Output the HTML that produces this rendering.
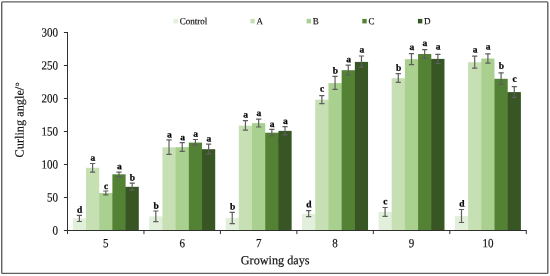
<!DOCTYPE html>
<html><head><meta charset="utf-8"><title>Curling angle chart</title>
<style>html,body{margin:0;padding:0;background:#fff}svg{display:block}text{font-family:"Liberation Serif","Times New Roman",serif;fill:#111;stroke:#111;stroke-width:0.18px}.lb text{fill:#000;stroke:#000;stroke-width:0.25px;font-weight:bold}</style></head>
<body>
<svg width="550" height="276" viewBox="0 0 550 276">
<rect x="0" y="0" width="550" height="276" fill="#fff"/>
<rect x="1.7" y="1.9" width="546.1" height="271.5" rx="0.8" ry="0.8" fill="none" stroke="#5f5f5f" stroke-width="1.4"/>
<rect x="85.40" y="218.80" width="1.2" height="11.70" fill="#E2EFDA"/>
<rect x="98.60" y="193.50" width="1.2" height="37.00" fill="#C6E0B4"/>
<rect x="111.80" y="193.50" width="1.2" height="37.00" fill="#A9D08E"/>
<rect x="125.00" y="187.30" width="1.2" height="43.20" fill="#548235"/>
<rect x="161.82" y="216.90" width="1.2" height="13.60" fill="#E2EFDA"/>
<rect x="175.02" y="147.80" width="1.2" height="82.70" fill="#C6E0B4"/>
<rect x="188.22" y="147.70" width="1.2" height="82.80" fill="#A9D08E"/>
<rect x="201.42" y="149.70" width="1.2" height="80.80" fill="#548235"/>
<rect x="238.24" y="218.40" width="1.2" height="12.10" fill="#E2EFDA"/>
<rect x="251.44" y="126.10" width="1.2" height="104.40" fill="#C6E0B4"/>
<rect x="264.64" y="133.20" width="1.2" height="97.30" fill="#A9D08E"/>
<rect x="277.84" y="133.20" width="1.2" height="97.30" fill="#548235"/>
<rect x="314.66" y="214.30" width="1.2" height="16.20" fill="#E2EFDA"/>
<rect x="327.86" y="100.20" width="1.2" height="130.30" fill="#C6E0B4"/>
<rect x="341.06" y="83.60" width="1.2" height="146.90" fill="#A9D08E"/>
<rect x="354.26" y="70.70" width="1.2" height="159.80" fill="#548235"/>
<rect x="391.08" y="212.40" width="1.2" height="18.10" fill="#E2EFDA"/>
<rect x="404.28" y="78.70" width="1.2" height="151.80" fill="#C6E0B4"/>
<rect x="417.48" y="59.70" width="1.2" height="170.80" fill="#A9D08E"/>
<rect x="430.68" y="59.40" width="1.2" height="171.10" fill="#548235"/>
<rect x="467.50" y="216.60" width="1.2" height="13.90" fill="#E2EFDA"/>
<rect x="480.70" y="62.70" width="1.2" height="167.80" fill="#C6E0B4"/>
<rect x="493.90" y="79.30" width="1.2" height="151.20" fill="#A9D08E"/>
<rect x="507.10" y="92.60" width="1.2" height="137.90" fill="#548235"/>
<rect x="72.80" y="218.30" width="13.20" height="12.20" fill="#E2EFDA"/>
<rect x="86.00" y="167.80" width="13.20" height="62.70" fill="#C6E0B4"/>
<rect x="99.20" y="193.00" width="13.20" height="37.50" fill="#A9D08E"/>
<rect x="112.40" y="174.30" width="13.20" height="56.20" fill="#548235"/>
<rect x="125.60" y="186.80" width="13.20" height="43.70" fill="#375623"/>
<rect x="149.22" y="216.40" width="13.20" height="14.10" fill="#E2EFDA"/>
<rect x="162.42" y="147.30" width="13.20" height="83.20" fill="#C6E0B4"/>
<rect x="175.62" y="147.20" width="13.20" height="83.30" fill="#A9D08E"/>
<rect x="188.82" y="142.60" width="13.20" height="87.90" fill="#548235"/>
<rect x="202.02" y="149.20" width="13.20" height="81.30" fill="#375623"/>
<rect x="225.64" y="217.90" width="13.20" height="12.60" fill="#E2EFDA"/>
<rect x="238.84" y="125.60" width="13.20" height="104.90" fill="#C6E0B4"/>
<rect x="252.04" y="123.10" width="13.20" height="107.40" fill="#A9D08E"/>
<rect x="265.24" y="132.70" width="13.20" height="97.80" fill="#548235"/>
<rect x="278.44" y="130.90" width="13.20" height="99.60" fill="#375623"/>
<rect x="302.06" y="213.80" width="13.20" height="16.70" fill="#E2EFDA"/>
<rect x="315.26" y="99.70" width="13.20" height="130.80" fill="#C6E0B4"/>
<rect x="328.46" y="83.10" width="13.20" height="147.40" fill="#A9D08E"/>
<rect x="341.66" y="70.20" width="13.20" height="160.30" fill="#548235"/>
<rect x="354.86" y="61.90" width="13.20" height="168.60" fill="#375623"/>
<rect x="378.48" y="211.90" width="13.20" height="18.60" fill="#E2EFDA"/>
<rect x="391.68" y="78.20" width="13.20" height="152.30" fill="#C6E0B4"/>
<rect x="404.88" y="59.20" width="13.20" height="171.30" fill="#A9D08E"/>
<rect x="418.08" y="54.00" width="13.20" height="176.50" fill="#548235"/>
<rect x="431.28" y="58.90" width="13.20" height="171.60" fill="#375623"/>
<rect x="454.90" y="216.10" width="13.20" height="14.40" fill="#E2EFDA"/>
<rect x="468.10" y="62.20" width="13.20" height="168.30" fill="#C6E0B4"/>
<rect x="481.30" y="58.50" width="13.20" height="172.00" fill="#A9D08E"/>
<rect x="494.50" y="78.80" width="13.20" height="151.70" fill="#548235"/>
<rect x="507.70" y="92.10" width="13.20" height="138.40" fill="#375623"/>
<g stroke="#303030" stroke-width="1" fill="none">
<line x1="67.5" y1="32.0" x2="67.5" y2="234.1"/>
<line x1="63.9" y1="230.5" x2="526.76" y2="230.5"/>
<line x1="63.9" y1="32.50" x2="67.5" y2="32.50"/>
<line x1="63.9" y1="65.50" x2="67.5" y2="65.50"/>
<line x1="63.9" y1="98.50" x2="67.5" y2="98.50"/>
<line x1="63.9" y1="131.50" x2="67.5" y2="131.50"/>
<line x1="63.9" y1="164.50" x2="67.5" y2="164.50"/>
<line x1="63.9" y1="197.50" x2="67.5" y2="197.50"/>
<line x1="143.96" y1="230.5" x2="143.96" y2="234.1"/>
<line x1="220.42" y1="230.5" x2="220.42" y2="234.1"/>
<line x1="296.88" y1="230.5" x2="296.88" y2="234.1"/>
<line x1="373.34" y1="230.5" x2="373.34" y2="234.1"/>
<line x1="449.80" y1="230.5" x2="449.80" y2="234.1"/>
<line x1="526.26" y1="230.5" x2="526.26" y2="234.1"/>
</g>
<g stroke="#5e5e5e" stroke-width="1.2" fill="none">
<path d="M76.80 215.40H82.00M79.40 215.40V221.50M76.80 221.50H82.00"/>
<path d="M90.00 163.50H95.20M92.60 163.50V172.10M90.00 172.10H95.20"/>
<path d="M103.20 191.00H108.40M105.80 191.00V194.80M103.20 194.80H108.40"/>
<path d="M116.40 172.10H121.60M119.00 172.10V176.70M116.40 176.70H121.60"/>
<path d="M129.60 183.20H134.80M132.20 183.20V190.10M129.60 190.10H134.80"/>
<path d="M153.22 211.00H158.42M155.82 211.00V221.70M153.22 221.70H158.42"/>
<path d="M166.42 139.90H171.62M169.02 139.90V154.40M166.42 154.40H171.62"/>
<path d="M179.62 142.60H184.82M182.22 142.60V151.30M179.62 151.30H184.82"/>
<path d="M192.82 139.50H198.02M195.42 139.50V145.20M192.82 145.20H198.02"/>
<path d="M206.02 144.10H211.22M208.62 144.10V153.90M206.02 153.90H211.22"/>
<path d="M229.64 212.30H234.84M232.24 212.30V223.60M229.64 223.60H234.84"/>
<path d="M242.84 120.60H248.04M245.44 120.60V130.20M242.84 130.20H248.04"/>
<path d="M256.04 119.10H261.24M258.64 119.10V127.00M256.04 127.00H261.24"/>
<path d="M269.24 129.30H274.44M271.84 129.30V135.90M269.24 135.90H274.44"/>
<path d="M282.44 126.70H287.64M285.04 126.70V134.80M282.44 134.80H287.64"/>
<path d="M306.06 210.70H311.26M308.66 210.70V216.70M306.06 216.70H311.26"/>
<path d="M319.26 95.70H324.46M321.86 95.70V103.60M319.26 103.60H324.46"/>
<path d="M332.46 76.40H337.66M335.06 76.40V89.40M332.46 89.40H337.66"/>
<path d="M345.66 65.20H350.86M348.26 65.20V75.10M345.66 75.10H350.86"/>
<path d="M358.86 56.00H364.06M361.46 56.00V67.20M358.86 67.20H364.06"/>
<path d="M382.48 207.50H387.68M385.08 207.50V216.40M382.48 216.40H387.68"/>
<path d="M395.68 73.70H400.88M398.28 73.70V82.40M395.68 82.40H400.88"/>
<path d="M408.88 53.60H414.08M411.48 53.60V64.60M408.88 64.60H414.08"/>
<path d="M422.08 49.70H427.28M424.68 49.70V58.40M422.08 58.40H427.28"/>
<path d="M435.28 54.30H440.48M437.88 54.30V63.50M435.28 63.50H440.48"/>
<path d="M458.90 209.50H464.10M461.50 209.50V222.50M458.90 222.50H464.10"/>
<path d="M472.10 56.20H477.30M474.70 56.20V68.10M472.10 68.10H477.30"/>
<path d="M485.30 53.90H490.50M487.90 53.90V63.20M485.30 63.20H490.50"/>
<path d="M498.50 72.90H503.70M501.10 72.90V84.30M498.50 84.30H503.70"/>
<path d="M511.70 86.70H516.90M514.30 86.70V97.40M511.70 97.40H516.90"/>
</g>
<g class="lb" font-size="9.3">
<text transform="translate(79.70 212.70) rotate(0.1) scale(1.02 1)" text-anchor="middle">d</text>
<text transform="translate(92.90 160.70) rotate(0.1) scale(1.02 1)" text-anchor="middle">a</text>
<text transform="translate(106.10 188.90) rotate(0.1) scale(1.02 1)" text-anchor="middle">c</text>
<text transform="translate(119.30 169.20) rotate(0.1) scale(1.02 1)" text-anchor="middle">a</text>
<text transform="translate(132.50 180.50) rotate(0.1) scale(1.02 1)" text-anchor="middle">b</text>
<text transform="translate(156.12 208.70) rotate(0.1) scale(1.02 1)" text-anchor="middle">b</text>
<text transform="translate(169.32 137.60) rotate(0.1) scale(1.02 1)" text-anchor="middle">a</text>
<text transform="translate(182.52 140.30) rotate(0.1) scale(1.02 1)" text-anchor="middle">a</text>
<text transform="translate(195.72 136.80) rotate(0.1) scale(1.02 1)" text-anchor="middle">a</text>
<text transform="translate(208.92 141.40) rotate(0.1) scale(1.02 1)" text-anchor="middle">a</text>
<text transform="translate(232.54 209.50) rotate(0.1) scale(1.02 1)" text-anchor="middle">b</text>
<text transform="translate(245.74 117.60) rotate(0.1) scale(1.02 1)" text-anchor="middle">a</text>
<text transform="translate(258.94 116.00) rotate(0.1) scale(1.02 1)" text-anchor="middle">a</text>
<text transform="translate(272.14 126.90) rotate(0.1) scale(1.02 1)" text-anchor="middle">a</text>
<text transform="translate(285.34 124.10) rotate(0.1) scale(1.02 1)" text-anchor="middle">a</text>
<text transform="translate(308.96 207.20) rotate(0.1) scale(1.02 1)" text-anchor="middle">d</text>
<text transform="translate(322.16 91.50) rotate(0.1) scale(1.02 1)" text-anchor="middle">c</text>
<text transform="translate(335.36 73.60) rotate(0.1) scale(1.02 1)" text-anchor="middle">b</text>
<text transform="translate(348.56 62.30) rotate(0.1) scale(1.02 1)" text-anchor="middle">a</text>
<text transform="translate(361.76 52.40) rotate(0.1) scale(1.02 1)" text-anchor="middle">a</text>
<text transform="translate(385.38 204.30) rotate(0.1) scale(1.02 1)" text-anchor="middle">c</text>
<text transform="translate(398.58 70.70) rotate(0.1) scale(1.02 1)" text-anchor="middle">b</text>
<text transform="translate(411.78 49.90) rotate(0.1) scale(1.02 1)" text-anchor="middle">a</text>
<text transform="translate(424.98 45.90) rotate(0.1) scale(1.02 1)" text-anchor="middle">a</text>
<text transform="translate(438.18 49.40) rotate(0.1) scale(1.02 1)" text-anchor="middle">a</text>
<text transform="translate(461.80 206.50) rotate(0.1) scale(1.02 1)" text-anchor="middle">d</text>
<text transform="translate(475.00 52.50) rotate(0.1) scale(1.02 1)" text-anchor="middle">a</text>
<text transform="translate(488.20 49.40) rotate(0.1) scale(1.02 1)" text-anchor="middle">a</text>
<text transform="translate(501.40 68.70) rotate(0.1) scale(1.02 1)" text-anchor="middle">b</text>
<text transform="translate(514.60 81.80) rotate(0.1) scale(1.02 1)" text-anchor="middle">c</text>
</g>
<g font-size="12.5">
<text transform="translate(57.90 36.50) rotate(0.1) scale(0.88 1)" text-anchor="end">300</text>
<text transform="translate(57.90 69.50) rotate(0.1) scale(0.88 1)" text-anchor="end">250</text>
<text transform="translate(57.90 102.50) rotate(0.1) scale(0.88 1)" text-anchor="end">200</text>
<text transform="translate(57.90 135.50) rotate(0.1) scale(0.88 1)" text-anchor="end">150</text>
<text transform="translate(57.90 168.50) rotate(0.1) scale(0.88 1)" text-anchor="end">100</text>
<text transform="translate(57.90 201.50) rotate(0.1) scale(0.88 1)" text-anchor="end">50</text>
<text transform="translate(57.90 234.50) rotate(0.1) scale(0.88 1)" text-anchor="end">0</text>
</g>
<g font-size="12.5">
<text transform="translate(105.73 247.20) rotate(0.1) scale(0.88 1)" text-anchor="middle">5</text>
<text transform="translate(182.19 247.20) rotate(0.1) scale(0.88 1)" text-anchor="middle">6</text>
<text transform="translate(258.65 247.20) rotate(0.1) scale(0.88 1)" text-anchor="middle">7</text>
<text transform="translate(335.11 247.20) rotate(0.1) scale(0.88 1)" text-anchor="middle">8</text>
<text transform="translate(411.57 247.20) rotate(0.1) scale(0.88 1)" text-anchor="middle">9</text>
<text transform="translate(488.03 247.20) rotate(0.1) scale(0.88 1)" text-anchor="middle">10</text>
</g>
<g font-size="12.4">
<text transform="translate(275.20 264.20) rotate(0.1) scale(0.985 1)" text-anchor="middle">Growing days</text>
<text transform="translate(23.5 157.4) rotate(-89.9) scale(0.992 1)">Curling angle/<tspan font-size="10.5" dy="-1.0" dx="0.3">°</tspan></text>
</g>
<g font-size="9.5">
<rect x="173.5" y="18.9" width="4.4" height="4.5" fill="#E2EFDA"/>
<text transform="translate(179.70 24.20) rotate(0.1) scale(0.95 1)" text-anchor="start">Control</text>
<rect x="250.4" y="18.9" width="4.4" height="4.5" fill="#C6E0B4"/>
<text transform="translate(256.60 24.20) rotate(0.1) scale(0.95 1)" text-anchor="start">A</text>
<rect x="306.6" y="18.9" width="4.4" height="4.5" fill="#A9D08E"/>
<text transform="translate(312.80 24.20) rotate(0.1) scale(0.95 1)" text-anchor="start">B</text>
<rect x="362.3" y="18.9" width="4.4" height="4.5" fill="#548235"/>
<text transform="translate(368.50 24.20) rotate(0.1) scale(0.95 1)" text-anchor="start">C</text>
<rect x="417.9" y="18.9" width="4.4" height="4.5" fill="#375623"/>
<text transform="translate(424.10 24.20) rotate(0.1) scale(0.95 1)" text-anchor="start">D</text>
</g>
</svg>
</body></html>
